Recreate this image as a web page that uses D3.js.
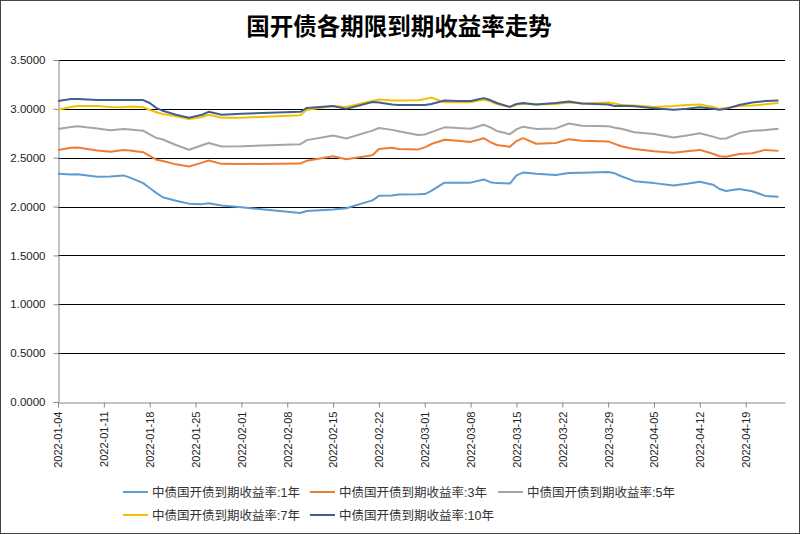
<!DOCTYPE html>
<html>
<head>
<meta charset="utf-8">
<script src="https://cdn.jsdelivr.net/npm/d3@7"></script>
<style>
  body { margin: 0; background: #fff; }
  svg { display: block; font-family: "Liberation Sans", "Noto Sans CJK SC", sans-serif; }
</style>
</head>
<body>
<svg id="chart"></svg>
<script>
const chartW = 800;
const chartH = 534;
const margin = { top: 60, right: 15, bottom: 132, left: 58 };

const title = "国开债各期限到期收益率走势";

const dates = [
  "2022-01-04", "2022-01-06", "2022-01-07", "2022-01-10", "2022-01-12", "2022-01-14",
  "2022-01-15", "2022-01-17", "2022-01-18", "2022-01-19", "2022-01-20", "2022-01-22",
  "2022-01-24", "2022-01-26", "2022-01-27", "2022-01-29", "2022-02-01", "2022-02-10",
  "2022-02-11", "2022-02-15", "2022-02-17", "2022-02-21", "2022-02-22", "2022-02-24",
  "2022-02-25", "2022-02-28", "2022-03-01", "2022-03-02", "2022-03-04", "2022-03-06",
  "2022-03-08", "2022-03-10", "2022-03-11", "2022-03-12", "2022-03-14", "2022-03-15",
  "2022-03-16", "2022-03-18", "2022-03-21", "2022-03-23", "2022-03-25", "2022-03-29",
  "2022-03-30", "2022-03-31", "2022-04-02", "2022-04-05", "2022-04-08", "2022-04-10",
  "2022-04-12", "2022-04-14", "2022-04-15", "2022-04-16", "2022-04-18", "2022-04-20",
  "2022-04-22", "2022-04-24"
];

const y1 = [
  2.335, 2.327, 2.33, 2.306, 2.309, 2.319, 2.296, 2.24, 2.19, 2.14, 2.095, 2.06,
  2.03, 2.025, 2.033, 2.01, 1.993, 1.935, 1.955, 1.969, 1.982, 2.063, 2.11, 2.114,
  2.124, 2.125, 2.128, 2.16, 2.245, 2.245, 2.245, 2.278, 2.25, 2.24, 2.236, 2.32,
  2.348, 2.335, 2.322, 2.344, 2.347, 2.353, 2.34, 2.31, 2.26, 2.24, 2.215, 2.233,
  2.255, 2.224, 2.18, 2.16, 2.18, 2.157, 2.109, 2.10
];

const y3 = [
  2.58, 2.603, 2.605, 2.575, 2.562, 2.58, 2.574, 2.557, 2.52, 2.48, 2.466, 2.432,
  2.41, 2.45, 2.472, 2.437, 2.436, 2.44, 2.47, 2.515, 2.485, 2.526, 2.59, 2.603,
  2.59, 2.585, 2.606, 2.64, 2.684, 2.673, 2.662, 2.70, 2.66, 2.63, 2.611, 2.67,
  2.70, 2.643, 2.65, 2.69, 2.673, 2.667, 2.642, 2.617, 2.588, 2.566, 2.55, 2.565,
  2.58, 2.54, 2.515, 2.51, 2.537, 2.546, 2.58, 2.57
];

const y5 = [
  2.795, 2.815, 2.822, 2.80, 2.782, 2.794, 2.788, 2.776, 2.74, 2.703, 2.686, 2.63,
  2.582, 2.628, 2.651, 2.615, 2.617, 2.638, 2.68, 2.727, 2.696, 2.777, 2.804, 2.785,
  2.771, 2.733, 2.737, 2.762, 2.811, 2.805, 2.797, 2.837, 2.81, 2.774, 2.741, 2.79,
  2.818, 2.795, 2.80, 2.85, 2.828, 2.823, 2.806, 2.796, 2.76, 2.742, 2.708, 2.728,
  2.75, 2.716, 2.695, 2.697, 2.752, 2.776, 2.783, 2.796
];

const y7 = [
  2.99, 3.02, 3.03, 3.03, 3.02, 3.016, 3.023, 3.016, 2.99, 2.965, 2.947, 2.925,
  2.895, 2.917, 2.94, 2.91, 2.91, 2.935, 2.99, 3.03, 3.02, 3.08, 3.095, 3.085,
  3.085, 3.087, 3.10, 3.115, 3.068, 3.068, 3.068, 3.095, 3.078, 3.05, 3.02, 3.045,
  3.051, 3.045, 3.05, 3.065, 3.055, 3.065, 3.055, 3.04, 3.035, 3.02, 3.03, 3.04,
  3.044, 3.02, 3.00, 3.01, 3.03, 3.034, 3.047, 3.06
];

const y10 = [
  3.08, 3.10, 3.10, 3.09, 3.09, 3.09, 3.09, 3.09, 3.06, 3.01, 2.98, 2.94,
  2.91, 2.94, 2.97, 2.94, 2.95, 2.97, 3.01, 3.03, 3.00, 3.07, 3.065, 3.045,
  3.04, 3.04, 3.04, 3.05, 3.085, 3.08, 3.08, 3.11, 3.09, 3.06, 3.02, 3.05,
  3.06, 3.045, 3.06, 3.075, 3.055, 3.045, 3.03, 3.033, 3.026, 3.007, 2.99, 3.00,
  3.017, 3.00, 2.99, 3.00, 3.04, 3.065, 3.08, 3.085
];

const seriesNames = [
  "中债国开债到期收益率:1年",
  "中债国开债到期收益率:3年",
  "中债国开债到期收益率:5年",
  "中债国开债到期收益率:7年",
  "中债国开债到期收益率:10年"
];
const seriesValues = [y1, y3, y5, y7, y10];
const seriesColors = ["#5d9bd2", "#ed7d31", "#a5a5a5", "#f5c000", "#41608f"];

const yTicks = [0, 0.5, 1.0, 1.5, 2.0, 2.5, 3.0, 3.5];
const xStart = "2022-01-04";
const xEnd = "2022-04-25";
const xTickStep = 7; // days between date labels

const parse = d3.timeParse("%Y-%m-%d");
const fmt = d3.timeFormat("%Y-%m-%d");

const svg = d3.select("#chart").attr("width", chartW).attr("height", chartH);

// outer border
svg.append("rect")
  .attr("x", 0.5).attr("y", 0.5)
  .attr("width", chartW - 1).attr("height", chartH - 1)
  .attr("fill", "#fff")
  .attr("stroke", "#444");

const x = d3.scaleTime()
  .domain([parse(xStart), parse(xEnd)])
  .range([margin.left, chartW - margin.right]);

const y = d3.scaleLinear()
  .domain([0, 3.5])
  .range([chartH - margin.bottom, margin.top]);

// Title
svg.append("text")
  .attr("x", 399)
  .attr("y", 35)
  .attr("text-anchor", "middle")
  .style("font-size", "23.5px")
  .style("font-weight", "700")
  .style("font-family", "'Noto Sans CJK SC', sans-serif")
  .text(title);

// Grid lines
svg.append("g")
  .selectAll("line")
  .data(yTicks.filter(d => d > 0))
  .join("line")
  .attr("x1", margin.left)
  .attr("x2", chartW - margin.right)
  .attr("y1", d => Math.round(y(d)) + 0.5)
  .attr("y2", d => Math.round(y(d)) + 0.5)
  .attr("stroke", "#000")
  .attr("stroke-width", 1);

// Y axis
const yAxis = svg.append("g")
  .attr("transform", `translate(${margin.left + 0.5},0)`)
  .call(d3.axisLeft(y).tickValues(yTicks).tickFormat(d3.format(".4f")).tickSize(5).tickPadding(8));
yAxis.select(".domain").attr("stroke", "#888");
yAxis.selectAll(".tick line").attr("stroke", "#888");
yAxis.selectAll("text")
  .style("font-size", "11.5px")
  .attr("fill", "#222");

// X axis
const xTickDates = d3.timeDay.range(parse(xStart), parse(xEnd), xTickStep);
const xAxis = svg.append("g")
  .attr("transform", `translate(0,${Math.round(y(0)) + 0.5})`)
  .call(d3.axisBottom(x).tickValues(xTickDates).tickFormat(fmt).tickSize(5).tickSizeOuter(0));
xAxis.select(".domain").attr("stroke", "#888");
xAxis.selectAll(".tick line").attr("stroke", "#888");
xAxis.selectAll("text")
  .style("font-size", "11px")
  .attr("fill", "#222")
  .attr("text-anchor", "end")
  .attr("transform", "rotate(-90)")
  .attr("x", -9)
  .attr("y", 0)
  .attr("dy", "0.35em");

// Lines
const line = d3.line()
  .x((d, i) => x(parse(dates[i])))
  .y(d => y(d));

svg.append("g")
  .selectAll("path")
  .data(seriesValues)
  .join("path")
  .attr("d", d => line(d))
  .attr("fill", "none")
  .attr("stroke", (d, i) => seriesColors[i])
  .attr("stroke-width", 2)
  .attr("stroke-linejoin", "round");

// Legend
const legendPos = [
  { x: 123, y: 492 }, { x: 310, y: 492 }, { x: 498, y: 492 },
  { x: 123, y: 515 }, { x: 310, y: 515 }
];

const legend = svg.append("g")
  .selectAll("g")
  .data(seriesNames)
  .join("g")
  .attr("transform", (d, i) => `translate(${legendPos[i].x},${legendPos[i].y})`);

legend.append("line")
  .attr("x1", 0).attr("x2", 25)
  .attr("y1", 0).attr("y2", 0)
  .attr("stroke", (d, i) => seriesColors[i])
  .attr("stroke-width", 2);

legend.append("text")
  .attr("x", 29)
  .attr("y", 0)
  .attr("dy", "0.36em")
  .style("font-size", "12.5px")
  .attr("fill", "#333")
  .text(d => d);
</script>
</body>
</html>
